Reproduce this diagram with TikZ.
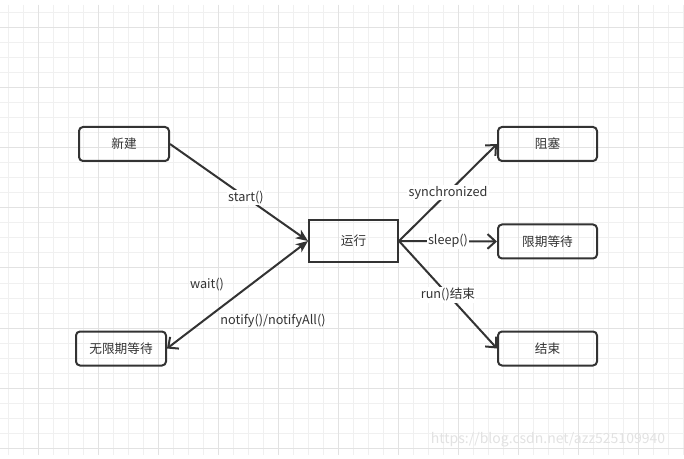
\documentclass[tikz,border=0pt]{standalone}
\usepackage{fontspec}
\setmainfont{Noto Sans CJK SC}
\usepackage{tikz}
\usetikzlibrary{arrows.meta,positioning}

\definecolor{gridmin}{HTML}{F0F0F0}
\definecolor{gridmaj}{HTML}{E2E2E2}
\definecolor{ink}{HTML}{333333}

\begin{document}
\begin{tikzpicture}[x=0.75pt, y=-0.75pt, font=\fontsize{9.5pt}{11pt}\selectfont, text=ink,
		state/.style={draw=ink, line width=1.5pt, rounded corners=3pt, minimum width=67.5pt, minimum height=25.5pt, inner sep=0pt},
		longstate/.style={state, minimum width=74.25pt},
		edge/.style={draw=ink, line width=1.5pt},
		lbl/.style={fill=white, inner sep=1pt},
		fillhead/.style={-{Stealth[length=9pt, width=7.5pt, inset=2.5pt]}},
		openhead/.style={-{Straight Barb[length=6pt, width=11pt]}}]
		\useasboundingbox (0,0) rectangle (684,459);
		\fill[white] (0,0) rectangle (684,459);
		
		% grid
		\foreach \x in {8,23,...,683} \draw[gridmin, line width=0.75pt] (\x,5) -- (\x,455);
		\foreach \y in {13,28,...,455} \draw[gridmin, line width=0.75pt] (0,\y) -- (684,\y);
		\foreach \x in {38,98,...,638} \draw[gridmaj, line width=0.75pt] (\x,5) -- (\x,455);
		\foreach \y in {28,88,...,448} \draw[gridmaj, line width=0.75pt] (0,\y) -- (684,\y);
		
		\node[state] (new) at (124,144) {新建};
		\node[state, rounded corners=0pt, minimum width=66.75pt, minimum height=31.5pt] (run) at (353.5,241) {运行};
		\node[state] (waiting) at (121,348.5) {无限期等待};
		
		\node[longstate] (blocked) at (547.5,144) {阻塞};
		\node[longstate] (timedwait) at (547.5,241.5) {限期等待};
		\node[longstate] (done) at (547.5,348.5) {结束};
		
		% Draw edges
		\draw[edge, fillhead] (new.east) -- node[lbl, pos=0.55] {start()} (run.west);
		\draw[edge, {Straight Barb[length=6pt, width=11pt]}-{Stealth[length=9pt, width=7.5pt, inset=2.5pt]}] (waiting.east) -- (run.west);
		\node (waitlbl) at (207,285) {wait()};
		\node (notifylbl) at (273,321) {notify()/notifyAll()};
		
		\draw[edge, openhead] (run.east) -- node[lbl] {synchronized} (blocked.west);
		\draw[edge, openhead] (run.east) -- node[lbl] {sleep()} (timedwait.west);
		\draw[edge, openhead] (run.east) -- node[lbl] {run()结束} (done.west);
		
		\node[text=gridmaj, font=\fontsize{10.5pt}{12pt}\selectfont] (mark) at (548,440) {https://blog.csdn.net/azz525109940};
	\end{tikzpicture}
\end{document}
